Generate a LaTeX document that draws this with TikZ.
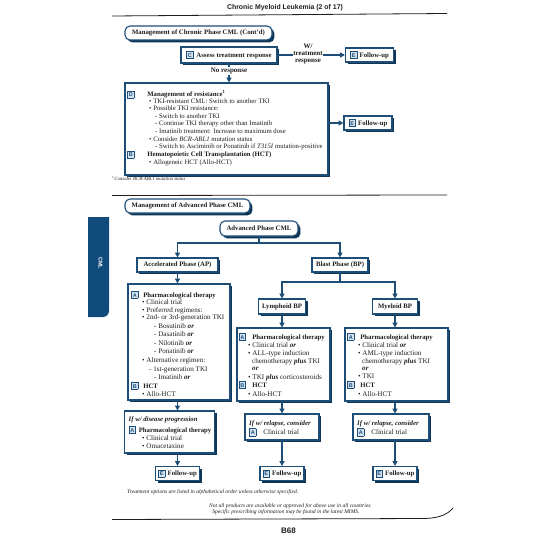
\documentclass[tikz,border=0pt]{standalone}
\usepackage{fontspec}
\setmainfont{Liberation Serif}
\setsansfont{Liberation Sans}
\usetikzlibrary{arrows.meta,shadows}
\definecolor{navy}{HTML}{1D4E78}
\definecolor{shade}{HTML}{0F3556}
\definecolor{lfill}{HTML}{D5E3F0}
\definecolor{ink}{HTML}{1E1E1E}
\definecolor{tabc}{HTML}{114B7C}
\newcommand\fbody{\fontsize{6.75}{7}\selectfont}
\newcommand\flow{\fontsize{7.1}{7.5}\selectfont}
\newcommand\fhead{\fontsize{6.75}{7}\selectfont\bfseries}
\newcommand\lett[1]{{\setlength\fboxsep{0.5pt}\setlength\fboxrule{0.55pt}\fcolorbox{navy}{lfill}{\makebox[5pt]{\rule[-0.6pt]{0pt}{5.6pt}\textcolor{navy}{\sffamily\bfseries\fontsize{5.5}{5.5}\selectfont #1}}}}}
\newcommand\orr{\textbf{\textit{or}}}
\newcommand\pls{\textbf{\textit{plus}}}
\newcounter{tn}
\newcommand\txtl[3]{\stepcounter{tn}\node[lt] (t\arabic{tn}) at (#1,#2) {#3};}
\newcommand\txtb[3]{\stepcounter{tn}\node[lt, font=\flow] (t\arabic{tn}) at (#1,#2) {#3};}
\tikzset{
 box/.style={draw=navy, line width=1.1pt, fill=white, inner sep=1pt, font=\fhead, text=ink,
   drop shadow={shadow xshift=2.4pt, shadow yshift=-2.4pt, fill=shade, opacity=1}},
 rbox/.style={box, rounded corners=5pt},
 arr/.style={draw=navy, line width=1.3pt, -{Triangle[length=4.8pt,width=5pt]}},
 ln/.style={draw=navy, line width=1.3pt},
 lt/.style={anchor=base west, inner sep=0pt, font=\fbody, text=ink},
 lab/.style={fill=white, inner sep=0.6pt, font=\fontsize{7}{7}\selectfont\bfseries, text=ink, align=center},
 ft/.style={inner sep=0pt, text=ink, font=\fontsize{5.55}{6}\selectfont\itshape},
 rule/.style={draw=ink, line width=0.8pt},
}
\begin{document}
\begin{tikzpicture}[x=1pt,y=-1pt]
\useasboundingbox[fill=white] (0,0) rectangle (537,537);
% header
\node[font=\sffamily\bfseries\fontsize{6.9}{7}\selectfont, text=ink, anchor=base, inner sep=0pt] (hd) at (285,10) {Chronic Myeloid Leukemia (2 of 17)};
\coordinate (h1) at (112,16); \coordinate (h2) at (447,13.5);
\draw[rule] (h1) -- (h2);
% side tab
\fill[tabc] (88,217) -- (109,217) -- (109,311) .. controls (109,314.3) and (106.3,317) .. (103,317) -- (88,317) -- cycle;
\node[rotate=-90, text=white, font=\sffamily\bfseries\fontsize{5.5}{5}\selectfont, inner sep=0pt] (tab) at (100.5,263) {CML};

% ---- chronic phase ----
\node[rbox, minimum width=147pt, minimum height=14pt] (T1) at (198.5,33) {Management of Chronic Phase CML (Cont’d)};
\node[box, minimum width=96pt, minimum height=16pt] (C) at (229,55) {\lett{C}\hspace{3pt}Assess treatment response};
\node[box, minimum width=48pt, minimum height=14pt] (E1) at (369.5,55) {\lett{E}\hspace{2.5pt}Follow-up};
\node[box, minimum width=203pt, minimum height=92pt] (D) at (226.5,129) {};
\node[box, minimum width=48pt, minimum height=14pt] (E2) at (368,123) {\lett{E}\hspace{2.5pt}Follow-up};
\draw[arr] (C.east) -- (E1.west);
\draw[arr] (C.south) -- (C.south |- D.north);
\draw[arr] (E2.west -| D.east) -- (E2.west);
\node[lab] (wt) at (308,54) {W/\\treatment\\response};
\node[lab] (nr) at (229,71) {No response};

\txtl{127}{97}{\lett{D}\hspace{13pt}{\fhead Management of resistance\textsuperscript{1}}}
\txtl{149}{103.5}{\textbullet\ TKI-resistant CML: Switch to another TKI}
\txtl{149}{111}{\textbullet\ Possible TKI resistance:}
\txtl{155}{118.5}{- Switch to another TKI}
\txtl{155}{126}{- Continue TKI therapy other than Imatinib}
\txtl{155}{133.5}{- Imatinib treatment: Increase to maximum dose}
\txtl{149}{141.5}{\textbullet\ Consider \textit{BCR-ABL1} mutation status}
\txtl{155}{149}{- Switch to Asciminib or Ponatinib if \textit{T315I} mutation-positive}
\txtl{127}{157}{\lett{B}\hspace{13pt}{\fhead Hematopoietic Cell Transplantation (HCT)}}
\txtl{149}{164.5}{\textbullet\ Allogeneic HCT (Allo-HCT)}
\txtl{112}{181}{\fontsize{4.8}{5}\selectfont\itshape \textsuperscript{1}Consider BCR-ABL1 mutation status}

\coordinate (s1) at (112,195.5); \coordinate (s2) at (447,195);
\draw[rule] (s1) -- (s2);

% ---- advanced phase ----
\node[rbox, minimum width=125pt, minimum height=14pt] (T2) at (187.5,206) {Management of Advanced Phase CML};
\node[rbox, minimum width=78pt, minimum height=15pt] (ADV) at (259,228.5) {Advanced Phase CML};
\node[box, minimum width=81pt, minimum height=14pt] (AP) at (177.5,265) {Accelerated Phase (AP)};
\node[box, minimum width=56pt, minimum height=14pt] (BP) at (340,265) {Blast Phase (BP)};
\node[box, minimum width=102pt, minimum height=116pt] (APT) at (179,342) {};
\node[box, minimum width=47pt, minimum height=15pt] (LY) at (282,306.5) {Lymphoid BP};
\node[box, minimum width=45pt, minimum height=15pt] (MY) at (395,306.5) {Myeloid BP};
\node[box, minimum width=93pt, minimum height=73pt] (LT) at (283.5,364.5) {};
\node[box, minimum width=103pt, minimum height=73pt] (MT) at (396.5,364.5) {};
\node[box, minimum width=90pt, minimum height=42pt] (PR) at (169.5,432) {};
\node[box, minimum width=74pt, minimum height=26pt] (LR) at (282,427) {};
\node[box, minimum width=76pt, minimum height=26pt] (MR) at (391,427) {};
\node[box, minimum width=44pt, minimum height=14pt] (F1) at (177.5,473.5) {\lett{E}\hspace{2.5pt}Follow-up};
\node[box, minimum width=44pt, minimum height=14pt] (F2) at (282,473.5) {\lett{E}\hspace{2.5pt}Follow-up};
\node[box, minimum width=44pt, minimum height=14pt] (F3) at (395,473.5) {\lett{E}\hspace{2.5pt}Follow-up};

\coordinate (j1) at (259,243);
\coordinate (j2) at (340,282);
\draw[ln] (ADV.south) -- (j1);
\draw[arr] (j1) -| (AP.north);
\draw[arr] (j1) -| (BP.north);
\draw[arr] (AP.south) -- (AP.south |- APT.north);
\draw[ln] (BP.south) -- (j2);
\draw[arr] (j2) -| (LY.north);
\draw[arr] (j2) -| (MY.north);
\draw[arr] (LY.south) -- (LY.south |- LT.north);
\draw[arr] (MY.south) -- (MY.south |- MT.north);
\draw[arr] (APT.south -| AP.south) -- (PR.north -| AP.south);
\draw[arr] (LT.south -| LY.south) -- (LR.north -| LY.south);
\draw[arr] (MT.south -| MY.south) -- (MR.north -| MY.south);
\draw[arr] (PR.south -| AP.south) -- (F1.north);
\draw[arr] (LR.south -| LY.south) -- (F2.north);
\draw[arr] (MR.south -| MY.south) -- (F3.north);

% AP text
\txtb{131}{297}{\lett{A}\hspace{5pt}{\fhead Pharmacological therapy}}
\txtb{142}{304.7}{\textbullet\ Clinical trial}
\txtb{142}{312}{\textbullet\ Preferred regimens:}
\txtb{142}{319.7}{\textbullet\ 2nd- or 3rd-generation TKI}
\txtb{154}{328}{- Bosutinib \orr}
\txtb{154}{336.5}{- Dasatinib \orr}
\txtb{154}{345}{- Nilotinib \orr}
\txtb{154}{353.5}{- Ponatinib \orr}
\txtb{142}{362.5}{\textbullet\ Alternative regimen:}
\txtb{149}{371}{- 1st-generation TKI}
\txtb{154}{379}{- Imatinib \orr}
\txtb{131}{388}{\lett{B}\hspace{5pt}{\fhead HCT}}
\txtb{142}{396}{\textbullet\ Allo-HCT}
% Lymphoid text
\txtb{238.5}{339}{\lett{A}\hspace{6.5pt}{\fhead Pharmacological therapy}}
\txtb{248}{347}{\textbullet\ Clinical trial \orr}
\txtb{248}{355}{\textbullet\ ALL-type induction}
\txtb{252}{363}{chemotherapy \pls\ TKI}
\txtb{252}{370}{\orr}
\txtb{248}{379}{\textbullet\ TKI \pls\ corticosteroids}
\txtb{238.5}{387}{\lett{B}\hspace{6.5pt}{\fhead HCT}}
\txtb{248}{396}{\textbullet\ Allo-HCT}
% Myeloid text
\txtb{347}{339}{\lett{A}\hspace{6pt}{\fhead Pharmacological therapy}}
\txtb{358}{347}{\textbullet\ Clinical trial \orr}
\txtb{358}{355}{\textbullet\ AML-type induction}
\txtb{362}{363}{chemotherapy \pls\ TKI}
\txtb{362}{370}{\orr}
\txtb{358}{378}{\textbullet\ TKI}
\txtb{347}{387}{\lett{B}\hspace{6pt}{\fhead HCT}}
\txtb{358}{396}{\textbullet\ Allo-HCT}
% progression / relapse
\txtb{128.5}{421}{\fhead\itshape If w/ disease progression}
\txtb{128.5}{432}{\lett{A}\hspace{3pt}{\fhead Pharmacological therapy}}
\txtb{142}{440}{\textbullet\ Clinical trial}
\txtb{142}{448}{\textbullet\ Omacetaxine}
\txtb{249}{425}{\fhead\itshape If w/ relapse, consider}
\txtb{249}{434.5}{\lett{A}\hspace{7pt}Clinical trial}
\txtb{357}{425}{\fhead\itshape If w/ relapse, consider}
\txtb{357}{434.5}{\lett{A}\hspace{7pt}Clinical trial}

% footer
\node[ft, anchor=base west] (f1) at (127,493) {Treatment options are listed in alphabetical order unless otherwise specified.};
\node[ft, anchor=base] (f2) at (290.5,507) {Not all products are available or approved for above use in all countries.};
\node[ft, anchor=base] (f3) at (286,513.5) {Specific prescribing information may be found in the latest MIMS.};
\coordinate (b1) at (112,519.5); \coordinate (b2) at (425,518.5); \coordinate (b3) at (453,508);
\draw[rule] (b1) -- (b2) .. controls (440,518) and (448,514) .. (b3);
\node[font=\sffamily\bfseries\fontsize{8}{8}\selectfont, text=ink, anchor=base, inner sep=0pt] (pg) at (288.5,533) {B68};
\end{tikzpicture}
\end{document}
